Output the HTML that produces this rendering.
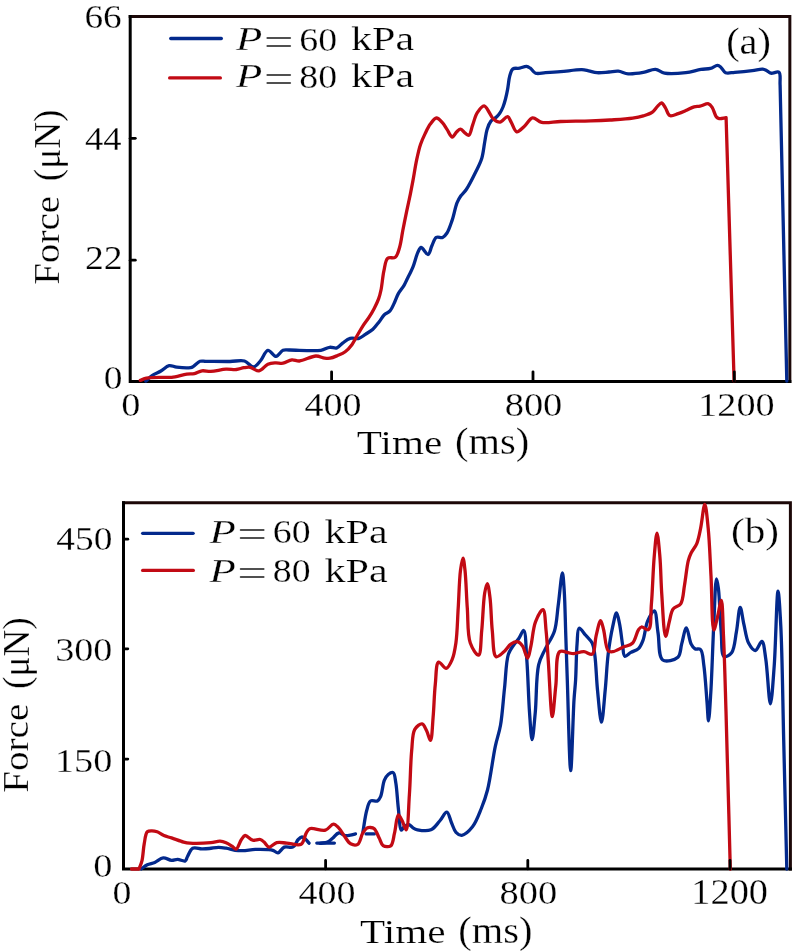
<!DOCTYPE html>
<html><head><meta charset="utf-8"><style>
html,body{margin:0;padding:0;background:#fff;}
body{width:792px;height:951px;overflow:hidden;}
svg{display:block;}
text{font-family:"Liberation Serif","DejaVu Serif",serif;fill:#000;stroke:#fff;stroke-width:0.25px;}
</style></head><body>
<svg width="792" height="951" viewBox="0 0 792 951">
<path d="M130.2,16.45 H789.85 V381.4" stroke="#1c0808" stroke-width="3" fill="none" stroke-linecap="square"/>
<path d="M130.2,16.45 V381.4 H789.85" stroke="#000" stroke-width="3" fill="none" stroke-linecap="square"/>
<path d="M145.80,381.10 C147.90,379.23 149.71,377.14 152.10,375.50 C154.69,373.73 158.06,372.65 160.90,371.00 C163.73,369.35 166.31,366.13 169.10,365.60 C171.59,365.13 173.77,366.85 176.70,367.20 C180.62,367.67 187.87,368.09 190.60,367.60 C191.80,367.39 192.11,367.17 193.10,366.60 C194.88,365.58 197.66,362.09 200.00,361.30 C201.91,360.65 203.20,361.29 205.80,361.30 C211.10,361.32 222.96,361.59 230.00,361.50 C235.45,361.43 240.41,359.83 244.50,361.00 C248.02,362.01 250.68,367.17 253.40,367.00 C255.91,366.85 258.08,363.44 260.30,361.00 C262.95,358.07 265.07,350.75 267.90,350.30 C270.40,349.90 273.53,356.51 276.10,356.40 C278.54,356.30 280.57,351.29 283.00,350.30 C285.01,349.48 286.40,350.06 289.30,350.00 C295.80,349.88 313.69,351.46 320.90,350.30 C324.81,349.67 326.88,347.65 329.70,347.30 C332.19,346.99 334.76,348.58 336.90,347.90 C339.07,347.21 340.51,344.63 342.60,343.10 C344.90,341.42 347.45,339.10 350.20,338.30 C352.92,337.51 356.39,339.05 359.00,338.30 C361.41,337.61 363.20,335.74 365.40,334.30 C367.82,332.72 370.64,331.25 372.90,329.20 C375.25,327.07 377.25,324.19 379.20,321.70 C381.03,319.36 382.37,316.55 384.30,314.70 C386.02,313.05 388.40,312.66 390.00,310.90 C391.87,308.84 393.04,305.51 394.40,302.70 C395.78,299.85 396.64,296.71 398.20,293.90 C399.79,291.03 402.39,288.26 403.90,285.70 C405.12,283.62 405.66,282.14 406.80,279.80 C408.47,276.37 411.08,271.58 412.90,267.10 C414.84,262.34 416.26,255.47 418.00,252.00 C419.02,249.97 419.77,247.62 421.10,247.50 C422.89,247.34 426.29,254.85 428.10,254.50 C429.88,254.16 430.53,248.56 431.90,245.70 C433.26,242.87 434.23,238.65 436.30,237.40 C438.00,236.38 440.81,238.14 442.60,237.40 C444.38,236.66 445.66,235.02 447.00,233.00 C448.98,230.01 450.52,225.00 452.10,220.40 C453.93,215.05 455.27,207.16 457.10,202.70 C458.30,199.78 459.39,197.97 460.90,195.80 C462.45,193.57 464.41,192.26 466.30,189.50 C469.24,185.20 473.09,177.36 475.80,171.80 C478.13,167.02 480.31,163.06 481.80,158.20 C483.39,153.01 483.85,146.62 484.80,141.50 C485.61,137.14 485.95,132.99 487.10,129.40 C488.09,126.31 489.13,123.30 490.90,121.10 C492.52,119.09 495.39,118.03 497.00,116.50 C498.26,115.30 499.07,114.31 500.00,112.90 C501.10,111.23 502.12,109.16 503.00,107.00 C503.99,104.57 504.76,101.81 505.50,99.00 C506.31,95.96 506.94,92.89 507.60,89.40 C508.39,85.27 508.69,79.51 509.80,75.80 C510.62,73.05 511.17,70.15 512.90,68.90 C514.54,67.71 517.45,68.61 519.70,68.20 C521.98,67.78 524.59,66.22 526.50,66.40 C527.98,66.54 529.00,67.31 530.30,68.20 C532.01,69.37 533.34,72.37 535.60,73.20 C538.23,74.17 541.85,72.91 545.50,72.70 C550.01,72.44 555.14,72.14 560.60,71.70 C567.07,71.18 576.70,69.53 581.80,69.70 C584.70,69.80 586.22,70.34 588.60,70.80 C591.26,71.32 593.93,72.45 597.00,72.70 C600.65,73.00 605.34,72.27 609.10,72.00 C612.38,71.76 615.20,70.94 618.30,71.20 C621.56,71.48 624.52,73.50 628.20,73.80 C632.68,74.17 638.56,73.20 643.30,72.40 C647.61,71.67 651.79,69.11 655.50,69.40 C658.77,69.66 660.77,72.49 664.50,73.20 C670.01,74.25 679.34,73.47 685.80,72.70 C691.30,72.04 696.42,70.12 700.90,69.40 C704.44,68.83 707.60,69.15 710.50,68.40 C713.07,67.73 715.59,65.29 717.50,65.40 C718.89,65.48 719.84,66.44 721.00,67.40 C722.54,68.66 723.53,71.81 725.60,72.70 C727.97,73.72 731.25,72.54 734.80,72.30 C739.71,71.97 747.23,71.30 752.30,70.70 C756.22,70.24 760.05,68.92 762.70,69.20 C764.41,69.38 765.46,70.06 766.80,70.70 C768.20,71.38 769.23,72.83 770.90,73.20 C773.08,73.68 777.37,70.97 779.00,72.30 C781.02,73.95 779.73,80.63 780.10,84.80 L786.80,381.00" stroke="#03298c" stroke-width="3.3" fill="none" stroke-linejoin="round" stroke-linecap="round"/>
<path d="M140.30,380.40 C142.33,379.67 143.86,378.72 146.40,378.20 C150.29,377.40 157.05,377.43 161.60,377.30 C165.31,377.19 168.02,377.67 171.70,377.30 C176.25,376.84 182.61,374.79 186.80,374.20 C189.75,373.78 191.90,374.15 194.40,373.60 C196.97,373.04 199.33,371.18 202.00,370.80 C204.79,370.40 207.48,371.54 210.80,371.40 C215.19,371.22 221.41,369.36 226.00,369.10 C229.76,368.89 233.15,369.81 236.30,369.50 C239.05,369.23 241.47,368.06 243.90,367.70 C246.08,367.37 247.97,366.93 250.20,367.30 C252.94,367.75 256.16,371.27 259.00,370.90 C262.08,370.50 264.89,365.50 267.90,364.20 C270.40,363.12 272.97,363.06 275.50,362.90 C278.00,362.74 280.44,363.62 283.00,363.20 C285.89,362.73 289.02,360.10 291.90,359.80 C294.47,359.53 296.44,361.20 299.40,361.00 C303.86,360.70 311.24,356.14 315.90,356.00 C319.27,355.90 322.12,357.77 324.70,358.10 C326.67,358.35 328.10,358.51 330.00,358.20 C332.34,357.82 335.10,356.56 337.60,355.50 C340.17,354.41 342.87,353.43 345.20,351.70 C347.74,349.82 350.18,346.98 352.10,344.40 C353.90,341.99 354.90,339.55 356.50,336.80 C358.41,333.53 360.63,329.46 362.80,326.10 C364.84,322.95 367.17,320.20 369.10,317.20 C370.96,314.30 372.63,311.43 374.20,308.40 C375.80,305.33 377.45,302.06 378.60,298.90 C379.68,295.93 380.25,293.55 381.00,290.00 C382.08,284.86 382.62,276.57 383.90,270.90 C384.95,266.22 385.27,260.37 387.70,258.30 C389.56,256.72 393.37,258.77 395.30,257.30 C397.65,255.51 398.51,250.83 399.70,246.90 C401.14,242.12 401.70,236.16 402.80,230.50 C403.99,224.42 405.45,217.13 406.60,211.60 C407.50,207.26 408.40,203.25 409.10,200.00 C409.61,197.64 409.91,196.32 410.40,193.90 C411.11,190.38 412.00,185.76 412.90,180.90 C414.05,174.70 415.32,166.16 416.70,159.70 C417.88,154.19 418.97,149.06 420.50,144.50 C421.81,140.59 423.35,137.33 425.00,133.90 C426.62,130.53 428.24,126.86 430.30,124.10 C432.11,121.67 434.31,118.14 436.40,118.00 C438.35,117.87 440.66,120.75 442.40,122.60 C444.21,124.53 445.40,127.08 447.00,129.40 C448.70,131.87 450.55,136.92 452.30,137.00 C453.81,137.07 455.27,133.08 456.80,131.70 C458.05,130.58 459.31,129.02 460.60,129.10 C462.10,129.20 463.69,132.14 465.20,133.20 C466.45,134.08 467.84,135.60 468.90,135.20 C470.62,134.55 471.36,128.39 472.70,124.80 C474.15,120.91 475.18,115.98 477.30,112.70 C479.13,109.87 482.04,105.77 484.10,105.90 C486.05,106.02 487.83,110.45 489.40,112.70 C490.83,114.75 491.47,117.23 493.20,118.80 C494.98,120.42 497.73,122.39 500.00,122.20 C502.53,121.99 505.64,116.32 507.60,116.70 C509.30,117.03 510.05,120.48 511.40,122.70 C513.04,125.41 514.46,131.31 516.70,131.80 C518.79,132.25 521.72,128.61 524.20,126.50 C527.03,124.08 529.54,118.42 532.60,117.90 C535.41,117.42 538.00,121.63 541.70,122.40 C546.75,123.46 553.56,121.74 560.60,121.50 C569.51,121.20 581.96,121.20 590.90,120.90 C598.00,120.66 603.36,120.42 610.00,120.00 C617.24,119.54 626.58,119.10 632.70,118.20 C636.92,117.58 639.95,116.95 643.30,115.90 C646.50,114.89 649.93,113.87 652.40,112.10 C654.62,110.51 656.02,107.72 657.70,106.10 C659.02,104.83 660.29,102.88 661.50,103.00 C662.84,103.13 664.06,105.79 665.30,107.60 C666.84,109.84 667.60,114.64 669.80,115.60 C671.94,116.54 675.50,114.45 678.20,113.60 C680.83,112.77 683.23,111.70 685.80,110.60 C688.52,109.44 691.51,107.50 694.10,106.80 C696.18,106.23 697.87,106.61 700.00,106.20 C702.60,105.71 706.35,103.24 708.50,103.80 C710.18,104.24 711.16,105.92 712.30,107.60 C713.86,109.90 714.76,115.02 716.30,116.80 C717.20,117.84 717.97,118.33 719.20,118.60 C720.96,118.98 723.80,118.00 726.10,117.70 L734.10,381.00" stroke="#c20a14" stroke-width="3.3" fill="none" stroke-linejoin="round" stroke-linecap="round"/>
<line x1="331.6" y1="381.4" x2="331.6" y2="371.8" stroke="#000" stroke-width="2.8" stroke-linecap="round"/>
<line x1="533.0" y1="381.4" x2="533.0" y2="371.8" stroke="#000" stroke-width="2.8" stroke-linecap="round"/>
<line x1="734.3" y1="381.4" x2="734.3" y2="371.8" stroke="#000" stroke-width="2.8" stroke-linecap="round"/>
<line x1="130.2" y1="138.3" x2="135.3" y2="138.3" stroke="#000" stroke-width="2.8" stroke-linecap="round"/>
<line x1="130.2" y1="260.2" x2="135.3" y2="260.2" stroke="#000" stroke-width="2.8" stroke-linecap="round"/>
<line x1="170.75" y1="38.5" x2="221.35" y2="38.5" stroke="#03298c" stroke-width="3.3" stroke-linecap="round"/>
<line x1="169.65" y1="77.9" x2="220.35" y2="77.9" stroke="#c20a14" stroke-width="3.3" stroke-linecap="round"/>
<path d="M123.5,502.7 H790.4 V868.9" stroke="#1c0808" stroke-width="3" fill="none" stroke-linecap="square"/>
<path d="M123.5,502.7 V868.9 H790.4" stroke="#000" stroke-width="3" fill="none" stroke-linecap="square"/>
<path d="M141.20,868.90 C143.23,867.53 145.08,865.87 147.30,864.80 C149.60,863.69 152.28,863.47 154.80,862.40 C157.57,861.22 160.35,858.20 163.20,857.90 C165.92,857.61 168.93,860.13 171.50,860.30 C173.67,860.45 175.46,859.35 177.60,859.40 C180.00,859.46 183.56,861.68 185.20,860.90 C186.47,860.30 186.48,858.40 187.40,856.80 C188.76,854.44 190.20,849.49 192.70,848.20 C195.07,846.98 198.90,848.76 201.80,848.80 C204.45,848.83 206.76,848.73 209.40,848.50 C212.30,848.25 215.60,847.32 218.50,847.30 C221.15,847.28 223.47,847.74 226.10,848.20 C229.01,848.71 232.31,849.89 235.20,850.30 C237.78,850.66 239.81,850.77 242.60,850.70 C246.27,850.61 251.07,849.58 255.30,849.40 C259.50,849.22 264.66,849.35 267.90,849.60 C269.95,849.76 271.26,849.80 272.90,850.30 C274.63,850.83 276.29,853.04 278.00,852.80 C280.09,852.51 281.81,848.09 284.30,847.10 C286.83,846.09 290.79,848.15 293.10,846.90 C295.44,845.64 296.45,841.21 298.20,839.50 C299.44,838.28 300.73,837.00 302.00,837.00 C303.27,837.00 304.65,838.49 305.80,839.50 C306.99,840.55 307.93,841.97 309.00,843.20" stroke="#03298c" stroke-width="3.3" fill="none" stroke-linejoin="round" stroke-linecap="round"/>
<path d="M316.80,843.10 L334.40,843.10" stroke="#03298c" stroke-width="3.3" fill="none" stroke-linejoin="round" stroke-linecap="round"/>
<path d="M320.00,843.30 C322.53,842.90 325.43,843.03 327.60,842.10 C329.56,841.26 330.87,839.70 332.60,838.30 C334.56,836.71 336.50,833.38 338.70,833.00 C340.76,832.65 343.22,835.31 345.30,835.60 C347.05,835.84 348.63,835.38 350.30,835.10 C352.03,834.82 353.77,834.30 355.50,833.90" stroke="#03298c" stroke-width="3.3" fill="none" stroke-linejoin="round" stroke-linecap="round"/>
<path d="M366.10,833.90 L374.30,833.90" stroke="#03298c" stroke-width="3.3" fill="none" stroke-linejoin="round" stroke-linecap="round"/>
<path d="M362.90,832.00 C364.17,824.83 365.09,816.16 366.70,810.50 C367.80,806.63 368.39,802.43 370.50,801.00 C372.23,799.83 375.68,801.87 377.40,801.00 C378.93,800.22 379.66,798.66 380.60,796.60 C382.26,792.97 382.69,784.15 384.40,780.20 C385.49,777.68 386.60,775.77 388.20,774.50 C389.61,773.38 391.97,771.96 393.20,772.60 C394.92,773.49 395.06,778.54 395.80,782.70 C396.95,789.20 397.33,799.85 398.30,808.00 C399.21,815.65 399.68,829.72 401.40,830.20 C402.14,830.41 402.91,827.94 404.00,827.00 C405.24,825.93 407.09,824.19 408.60,824.30 C410.23,824.42 411.79,827.26 413.40,828.20 C414.76,828.99 415.70,829.46 417.50,829.80 C420.64,830.39 427.16,831.35 430.90,829.80 C434.51,828.31 437.00,824.02 439.70,821.00 C442.28,818.11 444.83,811.84 446.80,812.10 C448.81,812.36 450.01,819.52 451.60,823.00 C453.08,826.23 454.00,830.23 456.00,832.30 C457.59,833.95 459.65,835.51 461.80,835.30 C464.91,835.00 469.46,830.61 472.50,826.80 C476.21,822.15 478.78,814.70 481.30,808.50 C483.77,802.43 485.57,797.56 487.50,790.00 C490.41,778.60 492.77,758.19 495.30,746.30 C497.07,738.00 499.08,733.33 500.50,725.30 C502.36,714.78 503.16,700.46 504.50,688.40 C505.79,676.78 505.89,661.82 508.40,654.20 C509.79,649.97 511.85,647.74 513.70,645.00 C515.33,642.58 517.18,640.83 518.80,638.50 C520.53,636.02 522.45,630.22 523.70,630.50 C525.91,631.00 525.92,648.39 526.80,659.50 C527.98,674.43 528.43,697.38 529.50,712.10 C530.28,722.78 531.13,739.69 532.10,739.70 C533.07,739.71 534.32,722.55 535.30,712.10 C536.58,698.44 535.98,676.11 538.70,664.70 C540.33,657.85 542.80,654.27 545.30,648.90 C547.99,643.12 552.26,637.85 554.40,631.20 C556.84,623.61 556.94,614.58 558.20,605.50 C559.61,595.28 561.33,572.89 562.40,572.90 C563.18,572.91 563.70,583.12 564.20,590.30 C565.00,601.88 565.28,620.74 565.80,635.80 C566.31,650.64 566.68,662.65 567.30,680.00 C568.19,704.86 569.51,770.69 570.70,770.70 C571.75,770.70 572.96,716.36 574.00,700.00 C574.55,691.29 575.14,687.68 575.60,680.00 C576.23,669.61 576.27,652.85 577.10,643.30 C577.63,637.15 577.28,628.79 579.10,628.20 C580.53,627.74 583.38,632.58 585.50,635.00 C587.78,637.59 590.75,640.08 592.30,643.30 C593.93,646.70 594.08,650.03 594.80,655.00 C596.03,663.52 596.35,678.59 597.50,690.00 C598.60,700.97 600.22,722.21 601.50,722.20 C602.78,722.19 604.11,701.05 605.20,690.00 C606.36,678.32 606.82,665.06 608.20,653.90 C609.41,644.17 611.05,634.19 612.70,626.70 C613.89,621.32 615.30,613.00 616.50,613.00 C617.55,613.00 618.61,619.43 619.50,623.60 C620.74,629.42 621.59,638.83 622.60,644.80 C623.34,649.19 623.03,655.43 624.80,656.20 C626.19,656.81 628.72,653.62 630.90,652.40 C633.27,651.08 636.51,650.53 638.50,648.60 C640.60,646.57 641.68,643.74 643.00,640.30 C644.91,635.34 645.35,626.45 647.60,621.20 C649.38,617.03 652.63,610.46 654.30,610.80 C656.54,611.26 656.69,624.92 658.00,632.60 C659.47,641.21 658.14,656.82 662.70,660.00 C666.10,662.37 674.75,660.06 677.90,657.20 C680.88,654.49 680.36,648.54 681.70,643.90 C683.18,638.79 684.83,627.80 686.40,627.80 C687.97,627.80 689.20,640.23 691.10,643.90 C692.25,646.12 693.28,647.76 694.90,648.70 C696.47,649.62 699.17,648.24 700.60,649.60 C702.96,651.84 702.88,658.73 703.80,665.00 C705.21,674.62 706.15,691.62 707.00,701.90 C707.61,709.27 707.94,720.90 708.50,720.90 C709.18,720.90 710.09,703.95 710.80,692.50 C711.89,675.02 712.66,646.44 713.70,626.20 C714.58,609.10 715.24,578.99 716.50,578.90 C717.07,578.86 717.83,584.06 718.40,588.40 C719.61,597.61 720.07,619.47 721.20,631.90 C722.05,641.27 721.03,654.86 724.10,656.50 C725.89,657.46 729.68,655.16 731.60,652.70 C734.66,648.79 735.01,639.15 736.40,631.90 C737.91,624.07 738.82,607.34 740.20,607.30 C741.35,607.26 742.53,618.49 743.90,624.30 C745.35,630.47 746.21,638.69 748.70,643.30 C750.46,646.56 753.17,650.62 755.30,650.50 C757.58,650.37 760.23,641.05 761.90,641.40 C763.98,641.83 764.55,651.33 765.70,658.40 C767.57,669.85 768.93,703.80 770.40,703.80 C771.74,703.80 773.08,680.75 774.20,666.00 C775.77,645.30 776.68,591.22 778.00,591.20 C778.91,591.19 780.01,611.18 780.80,626.20 C782.23,653.25 782.73,700.88 783.70,740.00 C784.73,781.65 785.77,826.00 786.80,869.00" stroke="#03298c" stroke-width="3.3" fill="none" stroke-linejoin="round" stroke-linecap="round"/>
<path d="M131.50,869.00 L139.00,869.00 C140.00,866.20 141.20,863.93 142.00,860.60 C143.10,856.03 143.22,848.99 144.20,843.90 C145.05,839.51 145.37,833.67 147.30,831.80 C148.47,830.67 150.24,830.83 151.80,830.80 C153.49,830.77 155.28,831.14 157.10,831.80 C159.29,832.59 161.51,834.59 163.90,835.60 C166.31,836.62 168.68,836.99 171.50,837.90 C175.08,839.06 180.22,841.21 183.60,842.10 C185.95,842.72 187.04,842.99 189.70,843.20 C194.62,843.58 205.32,843.22 210.90,842.70 C214.58,842.36 217.28,841.09 220.00,841.20 C222.25,841.29 224.13,841.90 226.10,842.70 C228.17,843.54 230.33,845.04 232.10,846.20 C233.60,847.17 234.83,849.38 236.10,849.10 C238.00,848.68 239.62,841.93 241.40,839.50 C242.66,837.78 243.62,835.70 245.20,835.50 C247.20,835.25 250.08,839.58 252.70,840.20 C255.13,840.78 258.27,838.97 260.30,839.50 C261.87,839.91 262.80,841.02 264.10,842.10 C265.71,843.44 267.15,846.84 269.10,847.10 C271.28,847.39 273.87,843.40 276.70,842.70 C279.73,841.95 283.14,842.87 286.80,843.10 C291.16,843.37 297.85,846.19 301.10,844.30 C304.09,842.55 304.50,836.01 306.20,833.20 C307.36,831.28 307.79,829.52 309.70,828.70 C312.88,827.33 321.22,831.39 325.40,830.20 C328.74,829.25 331.02,824.14 333.40,824.10 C335.28,824.07 336.87,826.06 338.50,827.70 C340.61,829.83 342.44,833.57 344.50,836.30 C346.48,838.92 348.18,842.54 350.60,843.80 C352.68,844.88 355.81,845.43 357.70,844.30 C360.18,842.82 360.91,836.08 362.70,833.20 C364.00,831.10 365.29,829.09 366.80,828.20 C367.95,827.52 369.27,827.41 370.50,827.50 C371.77,827.59 373.13,827.80 374.30,828.80 C376.22,830.44 377.75,835.34 379.30,838.30 C380.66,840.89 381.14,844.35 383.10,845.60 C384.99,846.80 388.85,847.23 390.70,845.90 C393.15,844.15 393.32,837.85 394.50,833.20 C395.90,827.68 396.52,815.25 398.30,814.90 C399.38,814.69 400.90,818.42 402.10,820.60 C403.56,823.25 405.11,829.98 406.20,829.80 C408.24,829.46 408.51,806.93 409.40,794.50 C410.39,780.63 410.51,762.38 411.70,750.40 C412.53,742.09 412.15,733.86 414.80,729.40 C416.54,726.47 420.11,723.56 422.10,723.90 C423.95,724.22 425.18,728.00 426.50,730.50 C428.03,733.40 429.47,740.54 430.50,740.40 C432.02,740.19 432.35,725.70 433.10,717.30 C434.00,707.27 434.23,694.10 435.30,684.20 C436.18,676.07 435.87,663.14 438.60,662.10 C440.41,661.41 443.98,668.72 446.20,668.40 C448.50,668.07 450.56,663.24 452.10,659.70 C454.06,655.18 454.93,649.62 455.90,643.00 C457.28,633.55 457.45,620.05 458.20,608.20 C458.98,595.84 459.29,579.39 460.50,570.30 C461.19,565.11 462.25,558.19 463.00,558.20 C463.75,558.21 464.42,565.13 465.00,570.30 C466.03,579.40 466.39,595.84 467.30,608.20 C468.17,620.05 467.33,634.64 470.30,643.00 C472.23,648.43 476.69,655.66 478.60,655.20 C481.06,654.61 480.77,639.91 481.70,630.90 C482.86,619.68 483.23,601.35 484.70,593.00 C485.45,588.77 486.49,583.57 487.30,583.60 C488.28,583.64 489.26,591.91 490.00,597.60 C491.14,606.31 491.18,620.53 492.30,630.90 C493.29,640.07 492.91,655.21 496.10,656.70 C497.95,657.57 501.22,654.06 503.60,652.10 C506.29,649.88 508.49,645.49 511.20,643.80 C513.35,642.46 516.06,641.34 518.00,641.80 C519.83,642.23 521.22,644.11 522.60,646.10 C524.59,648.97 526.21,658.29 527.60,658.20 C528.96,658.11 529.80,650.85 530.90,646.10 C532.44,639.42 532.96,628.32 535.50,621.80 C537.42,616.86 541.24,609.34 543.00,609.70 C545.15,610.15 545.26,623.19 546.10,630.90 C547.10,640.08 547.46,649.58 548.30,661.20 C549.44,676.92 550.84,716.67 552.30,716.70 C553.39,716.72 554.60,696.36 555.80,685.80 C557.06,674.69 555.37,654.95 559.70,651.60 C561.95,649.86 566.39,652.52 568.90,652.90 C570.64,653.16 571.52,653.62 573.30,653.60 C576.07,653.57 580.59,651.51 583.90,651.70 C586.88,651.87 590.29,655.40 592.30,654.20 C595.25,652.44 594.64,641.61 596.10,635.80 C597.44,630.46 599.22,620.62 600.60,620.60 C601.67,620.58 602.59,626.00 603.60,629.70 C605.12,635.26 605.48,648.28 608.20,650.90 C609.45,652.10 610.92,651.91 612.70,651.70 C615.53,651.37 619.90,648.55 623.30,647.10 C626.44,645.76 629.99,645.65 632.40,643.30 C635.37,640.41 636.54,632.39 638.50,629.70 C639.52,628.30 640.20,627.24 641.50,627.00 C643.27,626.67 646.80,630.73 648.50,629.70 C651.64,627.80 650.55,614.02 651.40,604.20 C652.55,590.84 653.04,569.88 654.20,556.80 C655.02,547.53 656.05,533.10 657.00,533.10 C657.95,533.10 659.14,547.96 659.90,556.80 C660.86,567.94 660.89,581.77 661.80,594.70 C662.76,608.28 663.83,636.26 665.60,636.40 C666.68,636.48 668.08,625.98 669.40,621.20 C670.59,616.87 670.91,611.87 673.10,608.90 C674.95,606.39 678.84,606.57 680.70,603.80 C683.37,599.81 683.31,591.85 684.50,585.20 C685.86,577.59 686.80,566.41 688.30,560.60 C689.16,557.29 689.84,555.61 691.10,553.00 C692.56,549.96 695.28,547.24 696.80,543.60 C698.61,539.25 699.40,534.06 700.60,528.40 C702.10,521.35 703.53,504.48 704.80,504.50 C706.06,504.52 707.26,519.06 708.20,528.40 C709.52,541.50 710.10,559.47 711.00,575.80 C711.97,593.26 711.84,629.78 713.80,630.00 C714.78,630.11 716.31,621.61 717.50,617.00 C718.83,611.84 720.34,600.42 721.30,600.50 C722.69,600.61 722.83,621.96 723.50,636.00 C724.47,656.45 725.10,681.68 726.00,711.40 C727.30,754.36 728.87,816.47 730.30,869.00" stroke="#c20a14" stroke-width="3.3" fill="none" stroke-linejoin="round" stroke-linecap="round"/>
<line x1="325.6" y1="868.9" x2="325.6" y2="860.5" stroke="#000" stroke-width="2.8" stroke-linecap="round"/>
<line x1="527.8" y1="868.9" x2="527.8" y2="860.5" stroke="#000" stroke-width="2.8" stroke-linecap="round"/>
<line x1="730.0" y1="868.9" x2="730.0" y2="860.5" stroke="#000" stroke-width="2.8" stroke-linecap="round"/>
<line x1="123.5" y1="539.2" x2="127.8" y2="539.2" stroke="#000" stroke-width="2.8" stroke-linecap="round"/>
<line x1="123.5" y1="648.8" x2="127.8" y2="648.8" stroke="#000" stroke-width="2.8" stroke-linecap="round"/>
<line x1="123.5" y1="759.1" x2="127.8" y2="759.1" stroke="#000" stroke-width="2.8" stroke-linecap="round"/>
<line x1="142.65" y1="533.3" x2="193.15" y2="533.3" stroke="#03298c" stroke-width="3.3" stroke-linecap="round"/>
<line x1="142.65" y1="570.4" x2="193.35" y2="570.4" stroke="#c20a14" stroke-width="3.3" stroke-linecap="round"/>
<text x="0" y="0" font-size="33.5" transform="translate(84.43,28.35) scale(1.1129,1.0089)">66</text>
<text x="0" y="0" font-size="33.5" transform="translate(85.08,149.60) scale(1.0915,1.0364)">44</text>
<text x="0" y="0" font-size="33.5" transform="translate(84.91,269.20) scale(1.1240,0.9933)">22</text>
<text x="0" y="0" font-size="33.5" transform="translate(103.81,389.24) scale(1.1158,1.0267)">0</text>
<text x="0" y="0" font-size="33.5" transform="translate(121.27,415.74) scale(1.1439,1.0222)">0</text>
<text x="0" y="0" font-size="33.5" transform="translate(304.45,415.75) scale(1.1358,1.0133)">400</text>
<text x="0" y="0" font-size="33.5" transform="translate(504.67,415.75) scale(1.1476,1.0133)">800</text>
<text x="0" y="0" font-size="33.5" transform="translate(698.28,415.75) scale(1.1394,1.0044)">1200</text>
<text x="0" y="0" font-size="33.5" transform="translate(726.20,53.90) scale(1.2029,1.1140)">(a)</text>
<text x="0" y="0" font-size="33.5" transform="translate(56.36,550.44) scale(1.1171,1.0311)">450</text>
<text x="0" y="0" font-size="33.5" transform="translate(55.29,660.74) scale(1.1368,1.0222)">300</text>
<text x="0" y="0" font-size="33.5" transform="translate(54.97,771.54) scale(1.1435,1.0311)">150</text>
<text x="0" y="0" font-size="33.5" transform="translate(93.37,877.45) scale(1.1439,1.0133)">0</text>
<text x="0" y="0" font-size="33.5" transform="translate(112.49,903.54) scale(1.1298,1.0267)">0</text>
<text x="0" y="0" font-size="33.5" transform="translate(298.55,903.54) scale(1.1358,1.0222)">400</text>
<text x="0" y="0" font-size="33.5" transform="translate(499.47,903.54) scale(1.1476,1.0222)">800</text>
<text x="0" y="0" font-size="33.5" transform="translate(691.37,903.74) scale(1.1426,1.0400)">1200</text>
<text x="0" y="0" font-size="33.5" transform="translate(730.96,542.62) scale(1.2278,1.0975)">(b)</text>
<text x="0" y="0" font-size="33.5" transform="translate(59.34,284.87) rotate(-90) scale(1.1662,1.0427)">Force</text>
<text x="0" y="0" font-size="33.5" transform="translate(59.87,181.17) rotate(-90) scale(1.1122,1.1213)">(μN)</text>
<text x="0" y="0" font-size="33.5" transform="translate(28.14,792.67) rotate(-90) scale(1.1662,1.0427)">Force</text>
<text x="0" y="0" font-size="33.5" transform="translate(28.67,688.97) rotate(-90) scale(1.1122,1.1213)">(μN)</text>
<text x="0" y="0" font-size="33.5" transform="translate(356.79,453.95) scale(1.2295,0.9867)">Time</text>
<text x="0" y="0" font-size="33.5" transform="translate(454.99,454.42) scale(1.2085,1.1107)">(ms)</text>
<text x="0" y="0" font-size="33.5" transform="translate(359.99,942.95) scale(1.2295,0.9867)">Time</text>
<text x="0" y="0" font-size="33.5" transform="translate(458.19,943.42) scale(1.2085,1.1107)">(ms)</text>
<text x="0" y="0" font-size="33.5" font-style="italic" transform="translate(236.02,50.30) scale(1.2810,1.0227)">P</text>
<text x="0" y="0" font-size="33.5" transform="translate(263.63,54.52) scale(1.5806,1.1030)">=</text>
<text x="0" y="0" font-size="33.5" transform="translate(299.31,50.54) scale(1.1285,1.0311)">60</text>
<text x="0" y="0" font-size="33.5" transform="translate(350.96,50.25) scale(1.2571,0.9872)">kPa</text>
<text x="0" y="0" font-size="33.5" font-style="italic" transform="translate(236.02,87.30) scale(1.2810,1.0227)">P</text>
<text x="0" y="0" font-size="33.5" transform="translate(263.63,91.52) scale(1.5806,1.1030)">=</text>
<text x="0" y="0" font-size="33.5" transform="translate(299.31,87.54) scale(1.1285,1.0311)">80</text>
<text x="0" y="0" font-size="33.5" transform="translate(350.96,87.25) scale(1.2571,0.9872)">kPa</text>
<text x="0" y="0" font-size="33.5" font-style="italic" transform="translate(209.52,542.90) scale(1.2810,1.0227)">P</text>
<text x="0" y="0" font-size="33.5" transform="translate(237.13,547.12) scale(1.5806,1.1030)">=</text>
<text x="0" y="0" font-size="33.5" transform="translate(272.81,543.14) scale(1.1285,1.0311)">60</text>
<text x="0" y="0" font-size="33.5" transform="translate(324.46,542.85) scale(1.2571,0.9872)">kPa</text>
<text x="0" y="0" font-size="33.5" font-style="italic" transform="translate(209.52,581.60) scale(1.2810,1.0227)">P</text>
<text x="0" y="0" font-size="33.5" transform="translate(237.13,585.82) scale(1.5806,1.1030)">=</text>
<text x="0" y="0" font-size="33.5" transform="translate(272.81,581.84) scale(1.1285,1.0311)">80</text>
<text x="0" y="0" font-size="33.5" transform="translate(324.46,581.55) scale(1.2571,0.9872)">kPa</text>
</svg>
</body></html>
